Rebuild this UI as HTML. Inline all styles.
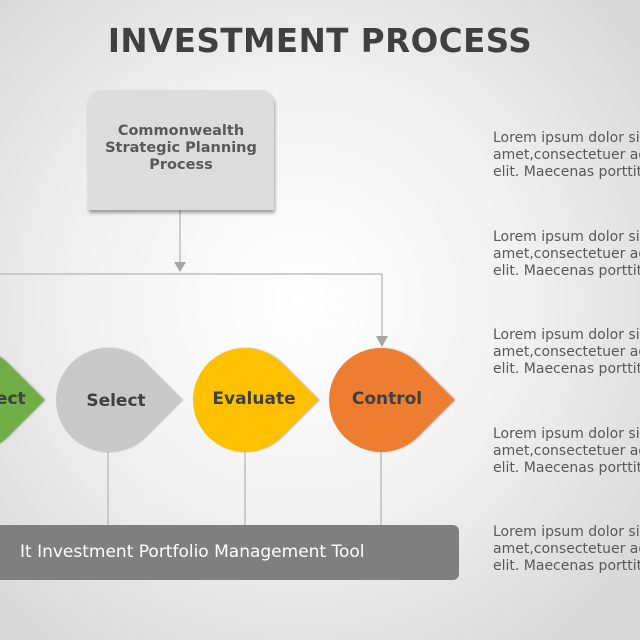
<!DOCTYPE html>
<html><head><style>
body{margin:0}
#p{position:relative;width:640px;height:640px;overflow:hidden;font-family:"DejaVu Sans",Verdana,sans-serif;
background:radial-gradient(ellipse 420px 420px at 300px 300px,#ffffff 0%,#f2f2f2 50%,#d9d9d9 100%);}
.t{position:absolute;left:0;width:640px;top:22px;text-align:center;font-size:32.5px;font-weight:bold;color:#404040;letter-spacing:0.5px}
.box{position:absolute;left:88px;top:90px;width:186px;height:120px;background:#dcdcdc;border-radius:13px 13px 0 0;box-shadow:1px 3px 3px rgba(0,0,0,.35);
display:flex;align-items:center;justify-content:center;text-align:center;font-weight:bold;font-size:14.5px;line-height:17px;color:#595959;padding-bottom:4px;box-sizing:border-box}
.d{position:absolute;width:104px;height:104px;border-radius:52px 52px 0 52px;transform:rotate(-45deg);box-shadow:1px 1px 2px rgba(0,0,0,.25)}
.lab{position:absolute;width:160px;text-align:center;font-weight:bold;font-size:17px;color:#404040}
.bar{position:absolute;left:-10px;top:525px;width:469px;height:55px;background:#7f7f7f;border-radius:6px;color:#fff;font-size:17px;line-height:55px;padding-left:30px;box-sizing:border-box}
.r{position:absolute;left:493px;font-size:14px;line-height:17px;color:#595959;white-space:nowrap}
</style></head><body><div id="p">
<div class="t">INVESTMENT PROCESS</div>
<svg width="640" height="640" style="position:absolute;left:0;top:0">
<g stroke="#bfbfbf" stroke-width="1.5" fill="none">
<line x1="180" y1="210" x2="180" y2="264"/>
<line x1="0" y1="274" x2="382" y2="274"/>
<line x1="382" y1="274" x2="382" y2="338"/>
<line x1="108" y1="452" x2="108" y2="525"/>
<line x1="245" y1="452" x2="245" y2="525"/>
<line x1="381" y1="452" x2="381" y2="525"/>
</g>
<polygon points="174,262 186,262 180,272" fill="#a6a6a6"/>
<polygon points="376,336 388,336 382,347" fill="#a6a6a6"/>
</svg>
<div class="box">Commonwealth<br>Strategic Planning<br>Process</div>
<div class="d" style="left:-81px;top:348px;background:#70ad47"></div>
<div class="d" style="left:56px;top:348px;background:#c8c8c8"></div>
<div class="d" style="left:193px;top:348px;background:#ffc000"></div>
<div class="d" style="left:329px;top:348px;background:#ed7d31"></div>
<div class="lab" style="left:-84px;top:389px">Select</div>
<div class="lab" style="left:36px;top:391px">Select</div>
<div class="lab" style="left:174px;top:389px">Evaluate</div>
<div class="lab" style="left:307px;top:389px">Control</div>
<div class="bar">It Investment Portfolio Management Tool</div>
<div class="r" style="top:130px">Lorem ipsum dolor sit<br>amet,consectetuer adip<br>elit. Maecenas porttitor</div>
<div class="r" style="top:229px">Lorem ipsum dolor sit<br>amet,consectetuer adip<br>elit. Maecenas porttitor</div>
<div class="r" style="top:327px">Lorem ipsum dolor sit<br>amet,consectetuer adip<br>elit. Maecenas porttitor</div>
<div class="r" style="top:426px">Lorem ipsum dolor sit<br>amet,consectetuer adip<br>elit. Maecenas porttitor</div>
<div class="r" style="top:524px">Lorem ipsum dolor sit<br>amet,consectetuer adip<br>elit. Maecenas porttitor</div>
</div></body></html>
